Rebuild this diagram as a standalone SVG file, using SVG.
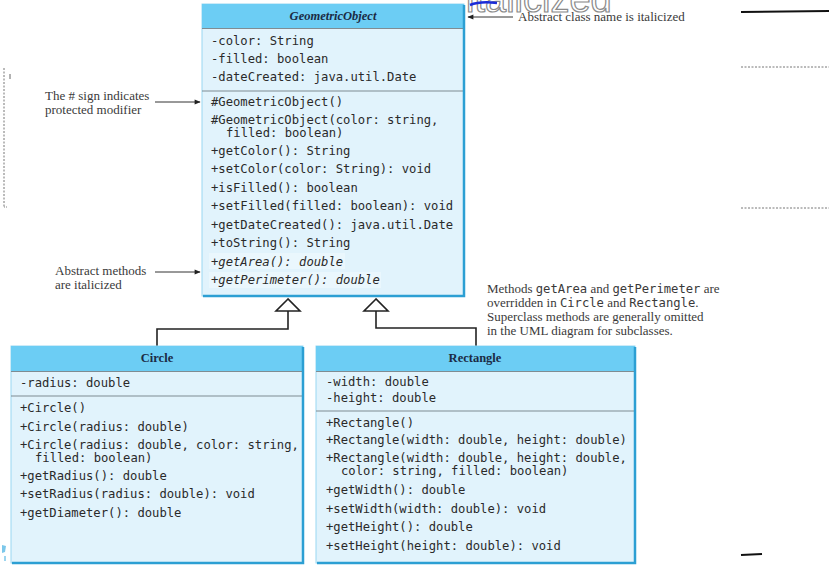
<svg xmlns="http://www.w3.org/2000/svg" width="829" height="565" viewBox="0 0 829 565">
<defs>
<style>
.body{fill:#e1f3fc;stroke:#9ad8f2;stroke-width:1}
.head{fill:#6ccdf4}
.shadow{stroke:#2c9fd3;stroke-width:2.5;fill:none}
.div{stroke:#7f8c92;stroke-width:1.2}
.m{font-family:"DejaVu Sans Mono","Liberation Mono",monospace;font-size:12.2px;fill:#2a2a2a}
.mi{font-style:italic}
.t{font-family:"Liberation Serif","Times New Roman",serif;font-weight:bold;font-size:12.5px;fill:#1b2b45;text-anchor:middle}
.n{font-family:"Liberation Serif","Times New Roman",serif;font-size:13px;fill:#3a3a3a}
.nm{font-family:"DejaVu Sans Mono",monospace;font-size:12.2px;fill:#3a3a3a}
.conn{stroke:#222;stroke-width:1.6;fill:none}
.tri{stroke:#222;stroke-width:1.6;fill:#fff}
.arr{stroke:#333;stroke-width:1}
</style>
<marker id="ah" viewBox="0 0 10 10" refX="9" refY="5" markerWidth="7" markerHeight="6" orient="auto" markerUnits="userSpaceOnUse">
<path d="M0,1 L10,5 L0,9 Z" fill="#222"/>
</marker>
</defs>
<rect width="829" height="565" fill="#fff"/>

<!-- artifacts -->
<g id="artifacts">
<text x="466" y="12" font-family="Liberation Sans,Arial,sans-serif" font-size="38" fill="#fff" stroke="#8a8a8a" stroke-width="1.2">italicized</text>
<path d="M470,5 Q480,1 497,3" stroke="#1a2bd8" stroke-width="2.5" fill="none"/>
<line x1="741" y1="12" x2="829" y2="11" stroke="#111" stroke-width="2"/>
<line x1="741" y1="67" x2="829" y2="67" stroke="#777" stroke-width="1" stroke-dasharray="2,1.5"/>
<line x1="741" y1="208" x2="829" y2="208" stroke="#777" stroke-width="1" stroke-dasharray="2,1.5"/>
<line x1="4" y1="68" x2="4" y2="207" stroke="#777" stroke-width="1" stroke-dasharray="2,1.5"/>
<line x1="4" y1="207" x2="8" y2="207" stroke="#888" stroke-width="1" stroke-dasharray="1,1"/>
<line x1="10" y1="74" x2="10" y2="79" stroke="#666" stroke-width="1"/>
<line x1="741" y1="555" x2="762" y2="554" stroke="#111" stroke-width="2"/>
<path d="M2,545 L6,546 L5,552 L2,553 Z" fill="#7cc7ea"/>
<line x1="5" y1="556" x2="5" y2="561" stroke="#7cc7ea" stroke-width="1.5"/>
</g>

<!-- connectors -->
<g id="connectors">
<polyline class="conn" points="157,346 157,329 288,329 288,311"/>
<polyline class="conn" points="476,346 476,328 376,328 376,311"/>
<polygon class="tri" points="288,299 276,311 300,311"/>
<polygon class="tri" points="376,299 364,311 388,311"/>
<line class="arr" x1="155" y1="102" x2="200" y2="102" marker-end="url(#ah)"/>
<line class="arr" x1="155" y1="272" x2="200" y2="272" marker-end="url(#ah)"/>
<line class="arr" x1="513" y1="17" x2="468" y2="17" marker-end="url(#ah)"/>
</g>

<!-- GeometricObject -->
<g id="GeometricObject">
<rect class="body" x="202" y="4" width="262" height="292"/>
<rect class="head" x="202" y="4" width="262" height="24"/>
<line class="div" x1="202" y1="28.5" x2="464" y2="28.5"/>
<line class="div" x1="202" y1="91" x2="464" y2="91"/>
<path class="shadow" d="M464,5 L464,296 L203,296"/>
<text class="t" x="333" y="20" font-style="italic">GeometricObject</text>
<text class="m" x="211" y="45">-color: String</text>
<text class="m" x="211" y="63">-filled: boolean</text>
<text class="m" x="211" y="81">-dateCreated: java.util.Date</text>
<text class="m" x="211" y="106">#GeometricObject()</text>
<text class="m" x="211" y="124">#GeometricObject(color: string,</text>
<text class="m" x="226" y="137">filled: boolean)</text>
<text class="m" x="211" y="155">+getColor(): String</text>
<text class="m" x="211" y="173">+setColor(color: String): void</text>
<text class="m" x="211" y="192">+isFilled(): boolean</text>
<text class="m" x="211" y="210">+setFilled(filled: boolean): void</text>
<text class="m" x="211" y="229">+getDateCreated(): java.util.Date</text>
<text class="m" x="211" y="247">+toString(): String</text>
<rect x="209" y="253" width="136" height="16" fill="#eaf7fd"/>
<rect x="209" y="272" width="172" height="16" fill="#eaf7fd"/>
<text class="m mi" x="211" y="266">+getArea(): double</text>
<text class="m mi" x="211" y="284">+getPerimeter(): double</text>
</g>

<!-- Circle -->
<g id="Circle">
<rect class="body" x="11" y="346" width="292" height="217"/>
<rect class="head" x="11" y="346" width="292" height="25"/>
<line class="div" x1="11" y1="371.5" x2="303" y2="371.5"/>
<line class="div" x1="11" y1="396" x2="303" y2="396"/>
<path class="shadow" d="M303,347 L303,563 L12,563"/>
<text class="t" x="157" y="362">Circle</text>
<text class="m" x="20" y="387">-radius: double</text>
<text class="m" x="20" y="412">+Circle()</text>
<text class="m" x="20" y="431">+Circle(radius: double)</text>
<text class="m" x="20" y="449">+Circle(radius: double, color: string,</text>
<text class="m" x="35" y="462">filled: boolean)</text>
<text class="m" x="20" y="480">+getRadius(): double</text>
<text class="m" x="20" y="498">+setRadius(radius: double): void</text>
<text class="m" x="20" y="517">+getDiameter(): double</text>
</g>

<!-- Rectangle -->
<g id="Rectangle">
<rect class="body" x="316" y="346" width="319" height="217"/>
<rect class="head" x="316" y="346" width="319" height="25"/>
<line class="div" x1="316" y1="371.5" x2="635" y2="371.5"/>
<line class="div" x1="316" y1="411" x2="635" y2="411"/>
<path class="shadow" d="M635,347 L635,563 L317,563"/>
<text class="t" x="475" y="362">Rectangle</text>
<text class="m" x="326" y="386">-width: double</text>
<text class="m" x="326" y="402">-height: double</text>
<text class="m" x="326" y="427">+Rectangle()</text>
<text class="m" x="326" y="444">+Rectangle(width: double, height: double)</text>
<text class="m" x="326" y="462">+Rectangle(width: double, height: double,</text>
<text class="m" x="341" y="475">color: string, filled: boolean)</text>
<text class="m" x="326" y="494">+getWidth(): double</text>
<text class="m" x="326" y="513">+setWidth(width: double): void</text>
<text class="m" x="326" y="531">+getHeight(): double</text>
<text class="m" x="326" y="550">+setHeight(height: double): void</text>
</g>

<!-- notes -->
<g id="notes">
<text class="n" x="45" y="100">The # sign indicates</text>
<text class="n" x="45" y="114">protected modifier</text>
<text class="n" x="55" y="275">Abstract methods</text>
<text class="n" x="55" y="289">are italicized</text>
<text class="n" x="518" y="21">Abstract class name is italicized</text>
<text class="n" x="487" y="293">Methods <tspan class="nm">getArea</tspan> and <tspan class="nm">getPerimeter</tspan> are</text>
<text class="n" x="487" y="307">overridden in <tspan class="nm">Circle</tspan> and <tspan class="nm">Rectangle</tspan>.</text>
<text class="n" x="487" y="321">Superclass methods are generally omitted</text>
<text class="n" x="487" y="335">in the UML diagram for subclasses.</text>
</g>
</svg>
